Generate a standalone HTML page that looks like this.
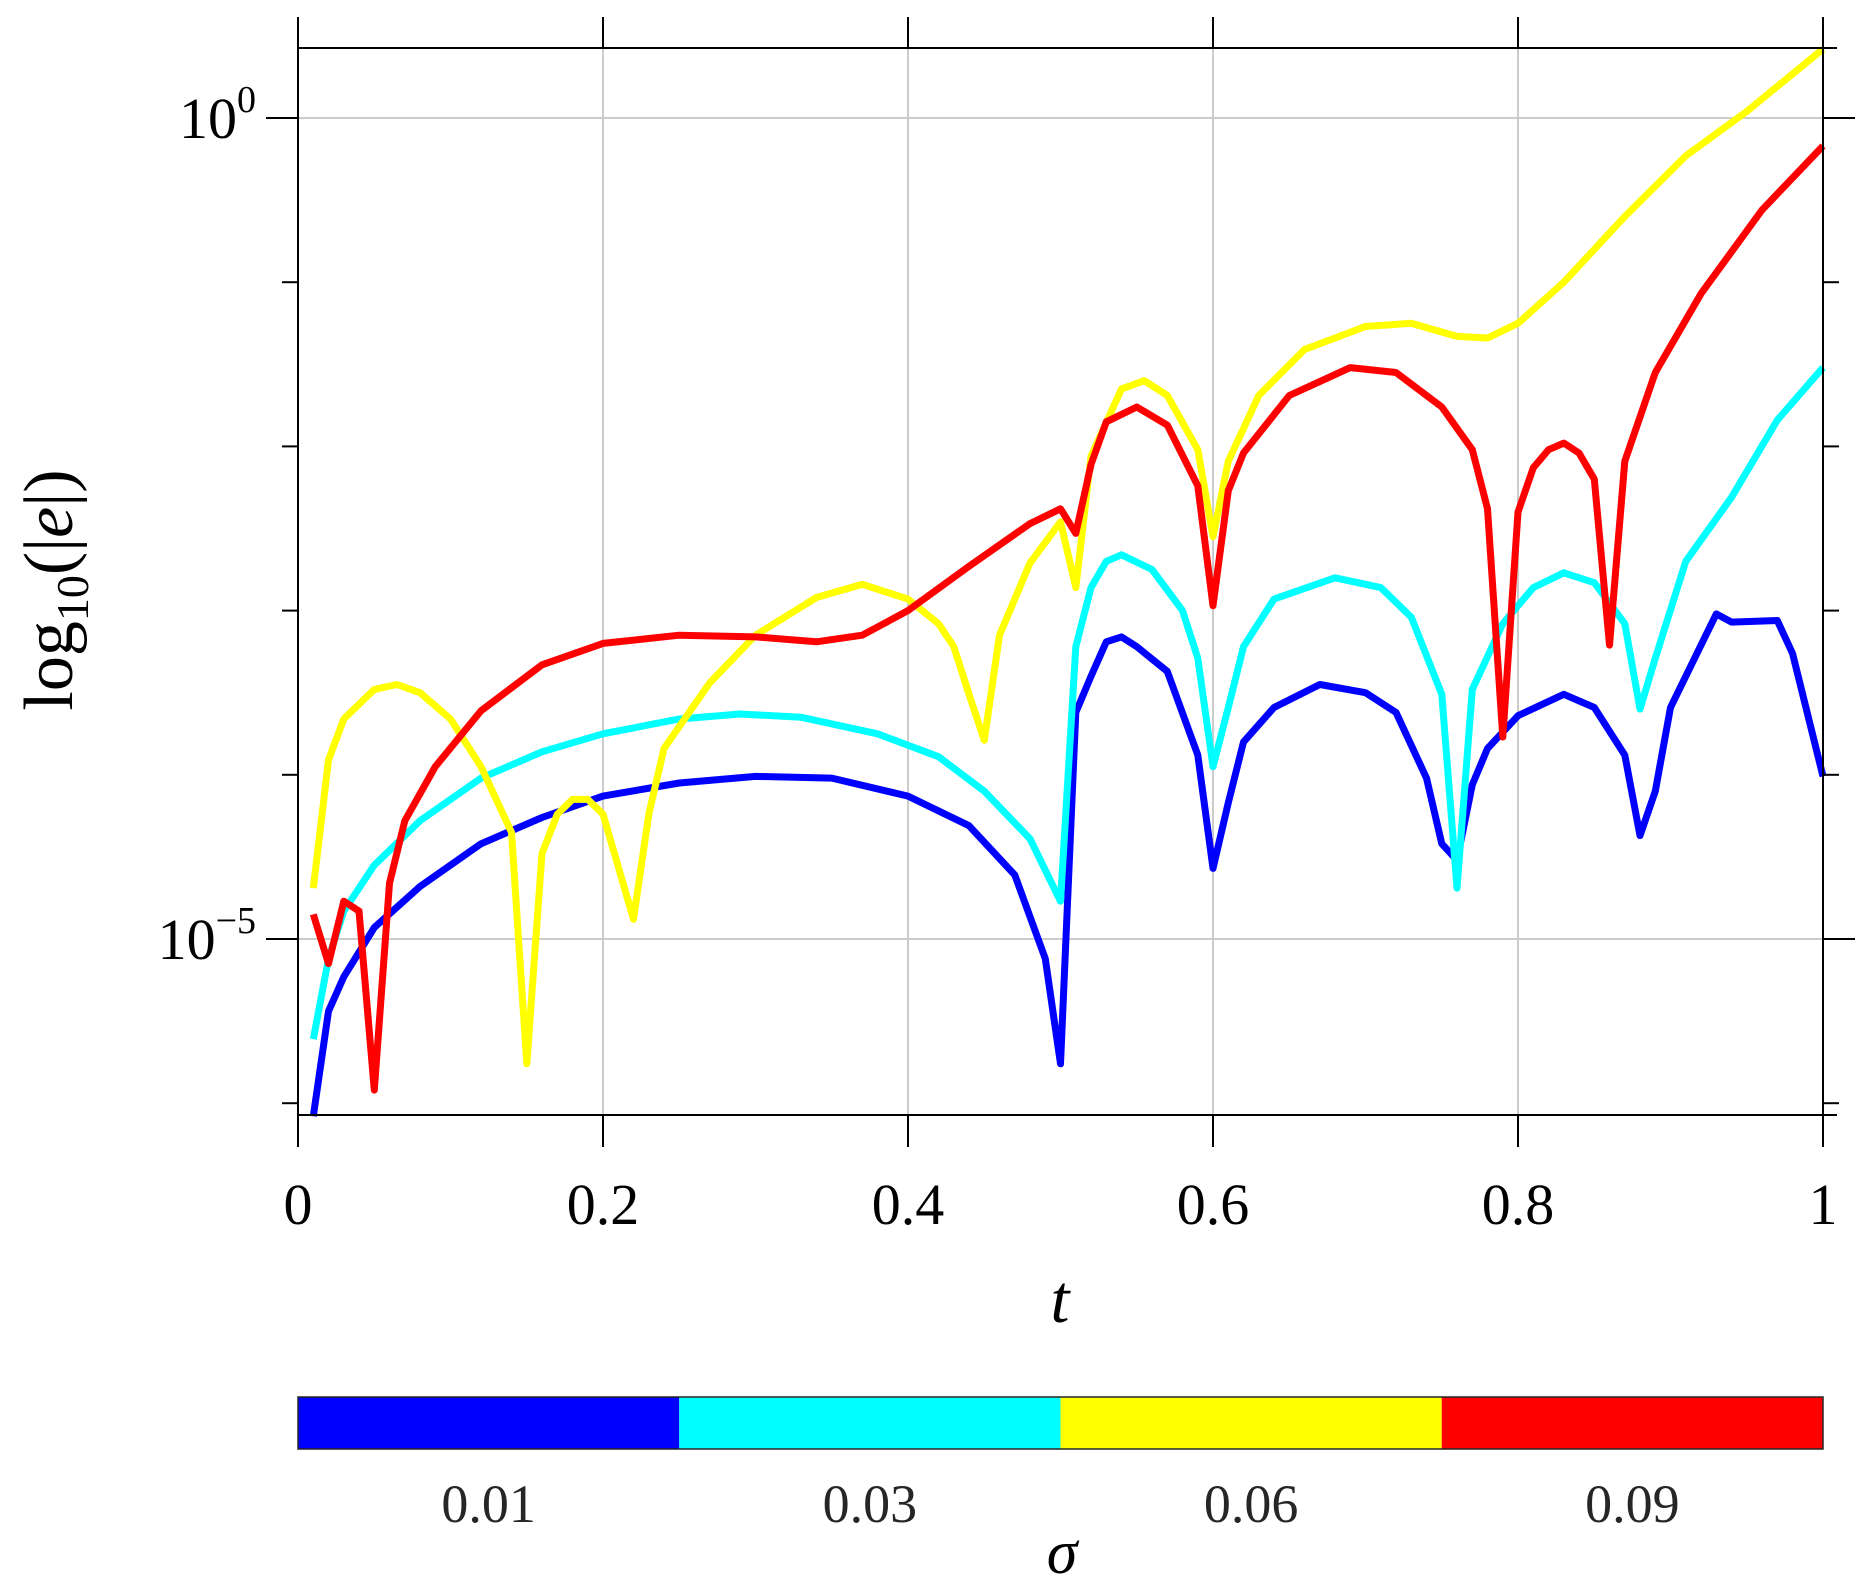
<!DOCTYPE html>
<html><head><meta charset="utf-8"><style>
html,body{margin:0;padding:0;background:#fff;}
svg{display:block;font-family:"Liberation Serif",serif;}
</style></head><body>
<svg id="chart" width="1874" height="1585" viewBox="0 0 1874 1585">
<g id="grid"></g>
<g id="series"></g>
<g id="axes"></g>
<text x="1060" y="1322" font-size="68" font-style="italic" text-anchor="middle">t</text>
<text transform="translate(72,590) rotate(-90)" font-size="70" text-anchor="middle">log<tspan font-size="46" dy="16">10</tspan><tspan dy="-16">(|</tspan><tspan font-style="italic">e</tspan>|)</text>
<g id="colorbar"></g>
<text x="1062" y="1573" font-size="62" font-style="italic" text-anchor="middle">σ</text>
</svg>
<script>
const tBlue=[.01,.02,.03,.05,.08,.12,.16,.20,.25,.30,.35,.40,.44,.47,.49,.50,.51,.52,.53,.54,.55,.57,.59,.60,.61,.62,.64,.67,.70,.72,.74,.75,.76,.77,.78,.80,.83,.85,.87,.88,.89,.90,.93,.94,.97,.98,1.0];
const vBlue=[-6.08,-5.44,-5.23,-4.93,-4.68,-4.42,-4.26,-4.13,-4.05,-4.01,-4.02,-4.13,-4.31,-4.61,-5.12,-5.76,-3.62,-3.40,-3.19,-3.16,-3.22,-3.37,-3.88,-4.57,-4.17,-3.80,-3.59,-3.45,-3.50,-3.62,-4.02,-4.42,-4.52,-4.06,-3.84,-3.64,-3.51,-3.59,-3.88,-4.37,-4.10,-3.59,-3.02,-3.07,-3.06,-3.26,-4.01];
const tCyan=[.01,.02,.03,.05,.08,.12,.16,.20,.25,.29,.33,.38,.42,.45,.48,.50,.51,.52,.53,.54,.56,.58,.59,.60,.61,.62,.64,.68,.71,.73,.75,.76,.77,.79,.81,.83,.85,.87,.88,.89,.91,.94,.97,1.0];
const vCyan=[-5.61,-5.12,-4.83,-4.55,-4.28,-4.02,-3.86,-3.75,-3.66,-3.63,-3.65,-3.75,-3.89,-4.10,-4.39,-4.77,-3.22,-2.86,-2.70,-2.66,-2.75,-3.00,-3.29,-3.95,-3.59,-3.22,-2.93,-2.80,-2.86,-3.04,-3.51,-4.69,-3.48,-3.08,-2.86,-2.77,-2.83,-3.08,-3.60,-3.29,-2.70,-2.31,-1.84,-1.52];
const tYellow=[.01,.02,.03,.05,.065,.08,.10,.12,.14,.15,.16,.17,.18,.19,.20,.22,.23,.24,.27,.30,.34,.37,.40,.42,.43,.44,.45,.46,.48,.50,.51,.52,.54,.555,.57,.59,.60,.61,.63,.66,.70,.73,.76,.78,.80,.83,.87,.91,.95,1.0];
const vYellow=[-4.69,-3.91,-3.66,-3.48,-3.45,-3.50,-3.66,-3.95,-4.35,-5.76,-4.48,-4.24,-4.15,-4.15,-4.24,-4.88,-4.24,-3.84,-3.44,-3.15,-2.92,-2.84,-2.93,-3.08,-3.22,-3.51,-3.79,-3.15,-2.71,-2.46,-2.86,-2.06,-1.65,-1.60,-1.69,-2.02,-2.55,-2.09,-1.69,-1.41,-1.27,-1.25,-1.33,-1.34,-1.25,-1.00,-0.60,-0.23,0.04,0.42];
const tRed=[.01,.02,.03,.04,.05,.06,.07,.09,.12,.16,.20,.25,.30,.34,.37,.40,.44,.48,.50,.51,.52,.53,.55,.57,.59,.60,.61,.62,.65,.69,.72,.75,.77,.78,.79,.80,.81,.82,.83,.84,.85,.86,.87,.89,.92,.96,1.0];
const vRed=[-4.85,-5.15,-4.77,-4.83,-5.92,-4.66,-4.28,-3.95,-3.61,-3.33,-3.20,-3.15,-3.16,-3.19,-3.15,-3.00,-2.73,-2.47,-2.38,-2.53,-2.11,-1.85,-1.76,-1.87,-2.24,-2.97,-2.27,-2.04,-1.69,-1.52,-1.55,-1.76,-2.02,-2.38,-3.77,-2.40,-2.13,-2.02,-1.98,-2.04,-2.20,-3.21,-2.09,-1.55,-1.07,-0.56,-0.17];
const xTicks=[0,0.2,0.4,0.6,0.8,1];
const xTickLabels=["0","0.2","0.4","0.6","0.8","1"];
const yDecades=[0,-1,-2,-3,-4,-5,-6];
const cbLabels=["0.01","0.03","0.06","0.09"];
const cbColors=["#0000ff","#00ffff","#ffff00","#ff0000"];

const X0=298,X1=1823,YT=48,YB=1115;
const sx=t=>X0+t*(X1-X0);
const sy=l=>118-l*164.2;
const NS="http://www.w3.org/2000/svg";
function mk(tag,attrs,parent){const e=document.createElementNS(NS,tag);for(const k in attrs)e.setAttribute(k,attrs[k]);parent.appendChild(e);return e;}
const grid=document.getElementById('grid'),axes=document.getElementById('axes'),series=document.getElementById('series'),cb=document.getElementById('colorbar');

xTicks.forEach((t,i)=>{
  if(t>0&&t<1){const g=mk('line',{x1:sx(t),x2:sx(t),y1:YT,y2:YB,stroke:'#cccccc','stroke-width':2},grid);
  
  }
  const tk=mk('line',{x1:sx(t),x2:sx(t),y1:17,y2:1147,stroke:'#000','stroke-width':2},axes);
  
  
  if(t>0&&t<1){tk.setAttribute('y2',YT);
    const b=mk('line',{x1:sx(t),x2:sx(t),y1:YB,y2:1147,stroke:'#000','stroke-width':2},axes);
    
    }
  const lb=mk('text',{x:sx(t),y:1224,'font-size':58,'text-anchor':'middle'},axes);
  lb.textContent=xTickLabels[i];
  
  
});
yDecades.forEach(d=>{
  const major=(d===0||d===-5);
  if(major){const g=mk('line',{x1:X0,x2:X1,y1:sy(d),y2:sy(d),stroke:'#cccccc','stroke-width':2},grid);
    
    }
  const l=major?32:16;
  const a=mk('line',{x1:X0-l,x2:X0,y1:sy(d),y2:sy(d),stroke:'#000','stroke-width':2},axes);
  
  
  const b=mk('line',{x1:X1,x2:X1+l,y1:sy(d),y2:sy(d),stroke:'#000','stroke-width':2},axes);
  
  
  if(major){const tx=mk('text',{x:X0-42,y:sy(d)+20,'font-size':58,'text-anchor':'end'},axes);
    tx.innerHTML='10<tspan font-size="38" dy="-26">'+(d===0?'0':'−5')+'</tspan>';
    
    }
});
[[X0,YT,X1+14,YT],[X0,YB,X1+14,YB]].forEach(c=>{
  const l=mk('line',{x1:c[0],y1:c[1],x2:c[2],y2:c[3],stroke:'#000','stroke-width':2},axes);
  
  
});
function drawLine(ts,vs,color,name){
  const d=ts.map((t,i)=>(i?'L':'M')+sx(t).toFixed(1)+','+sy(vs[i]).toFixed(1)).join(' ');
  const p=mk('path',{d:d,fill:'none',stroke:color,'stroke-width':7,'stroke-linejoin':'round'},series);
  
  
}
drawLine(tBlue,vBlue,'#0000ff','series-sigma-0.01');
drawLine(tCyan,vCyan,'#00ffff','series-sigma-0.03');
drawLine(tYellow,vYellow,'#ffff00','series-sigma-0.06');
drawLine(tRed,vRed,'#ff0000','series-sigma-0.09');

const cw=(X1-X0)/cbColors.length;
cbColors.forEach((c,i)=>{
  const r=mk('rect',{x:X0+i*cw,y:1397,width:cw,height:52,fill:c},cb);
  
  
  const t=mk('text',{x:X0+(i+0.5)*cw,y:1522,'font-size':54,'text-anchor':'middle',fill:'#262626'},cb);
  t.textContent=cbLabels[i];
  
  
});
const fr=mk('rect',{x:X0,y:1397,width:X1-X0,height:52,fill:'none',stroke:'#262626','stroke-width':1.5},cb);


</script>
</body></html>
